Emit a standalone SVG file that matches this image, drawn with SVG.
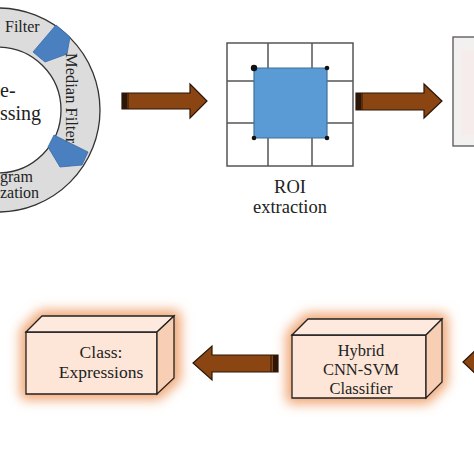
<svg xmlns="http://www.w3.org/2000/svg" width="474" height="474" viewBox="0 0 474 474">
<defs>
<style>
.t{font-family:"Liberation Serif","Times New Roman",serif;fill:#222;}
.arr{fill:#8b4513;stroke:#2b1608;stroke-width:1.2;}
.stripe{fill:#2b1608;}
.grid{stroke:#555;stroke-width:1.5;fill:none;}
.blue{fill:#4a80c0;stroke:#3a6aa8;stroke-width:0.8;}
.front{fill:#fde6d8;stroke:#222;stroke-width:1.3;}
.top{fill:#fde9dd;stroke:#222;stroke-width:1.3;}
.side{fill:#f8cfb4;stroke:#222;stroke-width:1.3;}
.glowshape{fill:#f0a877;stroke:#f0a877;stroke-width:12;stroke-linejoin:round;}
</style>
<filter id="glow" x="-30%" y="-50%" width="160%" height="200%">
<feGaussianBlur stdDeviation="6"/>
</filter>
</defs>
<rect width="474" height="474" fill="#ffffff"/>

<g id="preprocessing">
<path d="M -104 110 A 102 102 0 1 0 100 110 A 102 102 0 1 0 -104 110 Z M -65 110 A 63 63 0 1 1 61 110 A 63 63 0 1 1 -65 110 Z" fill="#dcdcdc" fill-rule="evenodd" stroke="#333" stroke-width="1.3"/>
<polygon class="blue" points="56,25 70,37 67,54 45,62 33,52"/>
<polygon class="blue" points="54,135 88,152 82,165 60,167 48,147"/>
<text class="t" x="5" y="32" font-size="16">Filter</text>
<text class="t" font-size="16.5" transform="translate(66,53) rotate(90)">Median Filter</text>
<text class="t" x="0" y="97" font-size="20">e-</text>
<text class="t" x="0" y="120" font-size="20">ssing</text>
<text class="t" x="0" y="182" font-size="16">gram</text>
<text class="t" x="0" y="198" font-size="16">zation</text>
</g>

<g id="roi">
<rect x="227" y="43" width="126" height="123" class="grid"/>
<line x1="268" y1="43" x2="268" y2="166" class="grid"/>
<line x1="312" y1="43" x2="312" y2="166" class="grid"/>
<line x1="227" y1="81" x2="353" y2="81" class="grid"/>
<line x1="227" y1="123" x2="353" y2="123" class="grid"/>
<rect x="254" y="68" width="73" height="70" rx="2" fill="#5b9bd5" stroke="#41719c" stroke-width="1.2"/>
<circle cx="254" cy="68" r="3.2" fill="#111"/>
<circle cx="327" cy="68" r="2.3" fill="#111"/>
<circle cx="254" cy="138" r="2.3" fill="#111"/>
<circle cx="327" cy="138" r="2.3" fill="#111"/>
<text class="t" x="290" y="193" font-size="18.5" text-anchor="middle">ROI</text>
<text class="t" x="290" y="213" font-size="18.5" text-anchor="middle">extraction</text>
</g>

<g id="next-box">
<rect x="453" y="37" width="40" height="109" fill="#f3f0f0" stroke="#555" stroke-width="1.3"/>
<rect x="462" y="50" width="30" height="85" fill="#f6eaea" opacity="0.7"/>
</g>

<g id="class-box">
<polygon class="glowshape" filter="url(#glow)" points="26,332 42,316 175,316 175,378 157,394 26,394"/>
<polygon class="front" points="26,332 157,332 157,394 26,394"/>
<polygon class="top" points="26,332 42,316 174,316 157,332"/>
<polygon class="side" points="157,332 174,316 174,378 157,394"/>
<text class="t" x="101" y="358" font-size="17.5" text-anchor="middle">Class:</text>
<text class="t" x="101" y="378" font-size="17.5" text-anchor="middle">Expressions</text>
</g>

<g id="hybrid-box">
<polygon class="glowshape" filter="url(#glow)" points="292,335 308,319 442,319 442,382 426,398 292,398"/>
<polygon class="front" points="292,335 426,335 426,398 292,398"/>
<polygon class="top" points="292,335 308,319 442,319 426,335"/>
<polygon class="side" points="426,335 442,319 442,382 426,398"/>
<text class="t" x="361" y="356" font-size="16.5" text-anchor="middle">Hybrid</text>
<text class="t" x="361" y="375" font-size="16.5" text-anchor="middle">CNN-SVM</text>
<text class="t" x="361" y="394" font-size="16.5" text-anchor="middle">Classifier</text>
</g>

<g id="connectors">
<polygon class="arr" points="122,93 190,93 190,84 207,101 190,118 190,109 122,109"/>
<rect class="stripe" x="122" y="93" width="5" height="16"/>
<line x1="128" y1="93" x2="128" y2="109" stroke="#2b1608" stroke-width="1"/>

<polygon class="arr" points="356,93 424,93 424,84 442,101 424,118 424,110 356,110"/>
<rect class="stripe" x="356" y="93" width="5" height="17"/>
<line x1="362" y1="93" x2="362" y2="110" stroke="#2b1608" stroke-width="1"/>

<polygon class="arr" points="278,355 212,355 212,346 193,363 212,380 212,372 278,372"/>
<rect class="stripe" x="273" y="355" width="5" height="17"/>
<line x1="271" y1="355" x2="271" y2="372" stroke="#2b1608" stroke-width="1"/>

<polygon class="arr" points="490,354 481,354 481,345 463,362 481,379 481,371 490,371"/>
</g>
</svg>
